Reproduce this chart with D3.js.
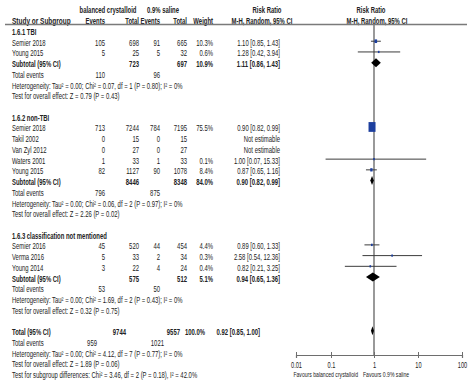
<!DOCTYPE html>
<html>
<head>
<meta charset="utf-8">
<script src="https://cdn.jsdelivr.net/npm/d3@7"></script>
<style>
  body { margin: 0; background: #fff; }
  svg text { font-family: "Liberation Sans", Arial, sans-serif; fill: #222; }
</style>
</head>
<body>
<div id="forest"></div>
<script>
// study level data
var studies = ["Semier 2018", "Young 2015",
  "Semier 2018", "Takil 2002", "Van Zyl 2012", "Waters 2001", "Young 2015",
  "Semier 2016", "Verma 2016", "Young 2014"];
var studyGroup = [0, 0, 1, 1, 1, 1, 1, 2, 2, 2];
var balEvents = [105, 5, 713, 0, 0, 1, 82, 45, 5, 3];
var balTotal = [698, 25, 7244, 15, 27, 33, 1127, 520, 33, 22];
var salEvents = [91, 5, 784, 0, 0, 1, 90, 44, 2, 4];
var salTotal = [665, 32, 7195, 15, 27, 33, 1078, 454, 34, 24];
var weight = [10.3, 0.6, 75.5, null, null, 0.1, 8.4, 4.4, 0.3, 0.4];
var rr = [1.10, 1.28, 0.90, null, null, 1.00, 0.87, 0.89, 2.58, 0.82];
var rrLow = [0.85, 0.42, 0.82, null, null, 0.07, 0.65, 0.60, 0.54, 0.21];
var rrHigh = [1.43, 3.94, 0.99, null, null, 15.33, 1.16, 1.33, 12.36, 3.25];

// subgroup + overall
var groups = ["1.6.1 TBI", "1.6.2 non-TBI", "1.6.3 classification not mentioned"];
var subBalTotal = [723, 8446, 575, 9744];
var subSalTotal = [697, 8348, 512, 9557];
var subWeight = [10.9, 84.0, 5.1, 100.0];
var subRR = [1.11, 0.90, 0.94, 0.92];
var subLow = [0.86, 0.82, 0.65, 0.85];
var subHigh = [1.43, 0.99, 1.36, 1.00];
var subBalEvents = [110, 796, 53, 959];
var subSalEvents = [96, 875, 50, 1021];
var hetText = [
  "Heterogeneity: Tau\u00b2 = 0.00; Chi\u00b2 = 0.07, df = 1 (P = 0.80); I\u00b2 = 0%",
  "Heterogeneity: Tau\u00b2 = 0.00; Chi\u00b2 = 0.06, df = 2 (P = 0.97); I\u00b2 = 0%",
  "Heterogeneity: Tau\u00b2 = 0.00; Chi\u00b2 = 1.69, df = 2 (P = 0.43); I\u00b2 = 0%",
  "Heterogeneity: Tau\u00b2 = 0.00; Chi\u00b2 = 4.12, df = 7 (P = 0.77); I\u00b2 = 0%"];
var testText = [
  "Test for overall effect: Z = 0.79 (P = 0.43)",
  "Test for overall effect: Z = 2.26 (P = 0.02)",
  "Test for overall effect: Z = 0.32 (P = 0.75)",
  "Test for overall effect: Z = 1.89 (P = 0.06)"];
var subgroupText = "Test for subgroup differences: Chi\u00b2 = 3.46, df = 2 (P = 0.18), I\u00b2 = 42.0%";

var axisTicks = [0.01, 0.1, 1, 10, 100];

var svgWidth = 474, svgHeight = 381;
var SX = 0.69; // text is horizontally squeezed in the reference

var svg = d3.select("#forest").append("svg")
  .attr("width", svgWidth)
  .attr("height", svgHeight);

// row index -> y
var yRow = d3.scaleLinear().domain([0, 32]).range([32, 375]);
var x = d3.scaleLog()
  .domain([0.01, 0.1, 1, 10, 100])
  .range([296, 331, 374, 418, 462]);
var sq = d3.scaleSqrt().domain([0, 75.5]).range([0, 7]);

function label(px, py, s, anchor, bold, size) {
  return svg.append("text")
    .attr("transform", `translate(${px},${py}) scale(${SX},1)`)
    .attr("text-anchor", anchor || "start")
    .attr("dy", "0.35em")
    .attr("font-size", (size || 8.6) + "px")
    .attr("font-weight", bold ? "bold" : "normal")
    .text(s);
}
var fmt = d3.format(".2f");
function ciText(m, l, h) { return fmt(m) + " [" + fmt(l) + ", " + fmt(h) + "]"; }

// column right edges
var col = { ev1: 105, tot1: 139, ev2: 160, tot2: 187, w: 213, ci: 280 };

// headers
label(108, 10, "balanced crystalloid", "middle", true);
label(147, 10, "0.9% saline", "start", true);
label(267, 10, "Risk Ratio", "middle", true);
label(371, 10, "Risk Ratio", "middle", true);
label(12, 20.5, "Study or Subgroup", "start", true, 9.4);
label(col.ev1, 20.5, "Events", "end", true);
label(col.tot1, 20.5, "Total", "end", true);
label(col.ev2, 20.5, "Events", "end", true);
label(col.tot2, 20.5, "Total", "end", true);
label(col.w, 20.5, "Weight", "end", true);
label(262, 20.5, "M-H, Random, 95% CI", "middle", true);
label(377, 20.5, "M-H, Random, 95% CI", "middle", true);

svg.append("line")
  .attr("x1", 5).attr("x2", 467).attr("y1", 24.5).attr("y2", 24.5)
  .attr("stroke", "#7a7a7a").attr("stroke-width", 1.5);

// null line
svg.append("line")
  .attr("x1", x(1)).attr("x2", x(1)).attr("y1", 25).attr("y2", 355)
  .attr("stroke", "#808080").attr("stroke-width", 1.6);

function diamond(row, m, l, h) {
  var cy = yRow(row) - 1.5;
  svg.append("path")
    .attr("d", `M${x(l)},${cy} L${x(m)},${cy - 4.5} L${x(h)},${cy} L${x(m)},${cy + 4.5} Z`)
    .attr("fill", "#000");
}

var row = 0;
groups.forEach(function(gname, g) {
  label(12, yRow(row), gname, "start", true);
  row++;
  studies.forEach(function(name, i) {
    if (studyGroup[i] !== g) return;
    var y = yRow(row);
    label(12, y, name);
    label(col.ev1, y, balEvents[i], "end");
    label(col.tot1, y, balTotal[i], "end");
    label(col.ev2, y, salEvents[i], "end");
    label(col.tot2, y, salTotal[i], "end");
    if (weight[i] != null) {
      label(col.w, y, weight[i].toFixed(1) + "%", "end");
      label(col.ci, y, ciText(rr[i], rrLow[i], rrHigh[i]), "end");
      var cy = y - 1.5;
      svg.append("line")
        .attr("x1", x(rrLow[i])).attr("x2", x(rrHigh[i]))
        .attr("y1", cy).attr("y2", cy)
        .attr("stroke", "#3c3c3c").attr("stroke-width", 1);
      var w = Math.max(1.6, sq(weight[i]));
      var hgt = Math.max(1.6, w * 1.4);
      svg.append("rect")
        .attr("x", x(rr[i]) - w / 2).attr("y", cy - hgt / 2)
        .attr("width", w).attr("height", hgt)
        .attr("fill", "#1d3f9e");
    } else {
      label(col.ci, y, "Not estimable", "end");
    }
    row++;
  });
  var ys = yRow(row);
  label(12, ys, "Subtotal (95% CI)", "start", true);
  label(col.tot1, ys, subBalTotal[g], "end", true);
  label(col.tot2, ys, subSalTotal[g], "end", true);
  label(col.w, ys, subWeight[g].toFixed(1) + "%", "end", true);
  label(col.ci, ys, ciText(subRR[g], subLow[g], subHigh[g]), "end", true);
  diamond(row, subRR[g], subLow[g], subHigh[g]);
  row++;
  label(12, yRow(row), "Total events");
  label(col.ev1, yRow(row), subBalEvents[g], "end");
  label(col.ev2, yRow(row), subSalEvents[g], "end");
  row++;
  label(12, yRow(row), hetText[g]);
  row++;
  label(12, yRow(row), testText[g]);
  row += 2;
});

// overall
var yt = yRow(row);
label(12, yt, "Total (95% CI)", "start", true);
label(126, yt, subBalTotal[3], "end", true);
label(180, yt, subSalTotal[3], "end", true);
label(205, yt, subWeight[3].toFixed(1) + "%", "end", true);
label(260, yt, ciText(subRR[3], subLow[3], subHigh[3]), "end", true);
diamond(row, subRR[3], subLow[3], subHigh[3]);
row++;
label(12, yRow(row), "Total events");
label(97, yRow(row), subBalEvents[3], "end");
label(164, yRow(row), subSalEvents[3], "end");
row++;
label(12, yRow(row), hetText[3]);
row++;
label(12, yRow(row), testText[3]);
row++;
label(12, yRow(row), subgroupText);

// axis
var axisY = 355;
var axisG = svg.append("g")
  .attr("transform", `translate(0,${axisY})`)
  .call(d3.axisBottom(x).tickValues(axisTicks).tickFormat(d => String(d)).tickSize(3));
axisG.select(".domain").attr("stroke", "#6e6e6e").attr("stroke-width", 1.2);
axisG.selectAll(".tick line").attr("y1", -3).attr("y2", 3).attr("stroke", "#6e6e6e");
axisG.selectAll(".tick text")
  .attr("font-family", null)
  .attr("font-size", "8.2px")
  .attr("fill", null)
  .attr("x", 0)
  .attr("y", 0)
  .attr("dy", "0")
  .attr("transform", `translate(0,13) scale(${SX},1)`);

label(358, 374, "Favours balanced crystalloid", "end", false, 7.4);
label(363, 374, "Favours 0.9% saline", "start", false, 7.4);
</script>
</body>
</html>
